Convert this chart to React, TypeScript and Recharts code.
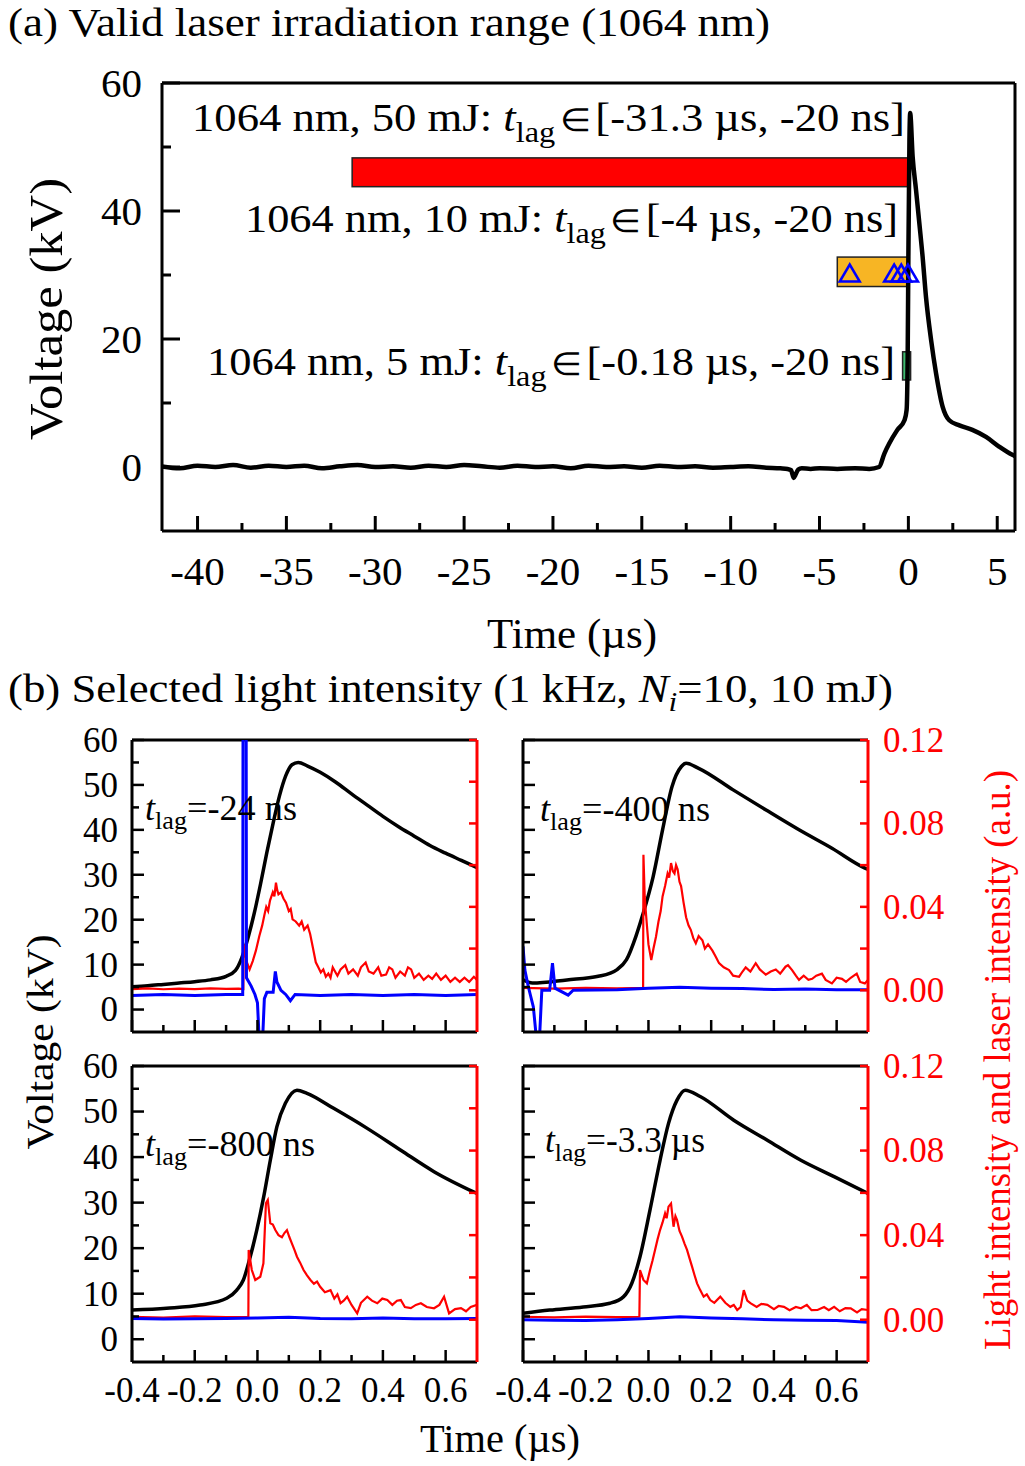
import React from 'react'
import {
  ComposedChart,
  Line,
  XAxis,
  YAxis,
  ReferenceArea,
  ReferenceLine,
  ReferenceDot,
} from 'recharts'

const FONT = '"Liberation Serif", "Times New Roman", serif'
const RED = '#ff0000'
const BLUE = '#0000ff'

// (a) 1064 nm voltage waveform, time in µs, voltage in kV
const aTime = [
  -42, -41, -40, -39, -38, -37, -36, -35, -34, -33, -32, -31, -30, -29, -28, -27, -26, -25,
  -24, -23, -22, -21, -20, -19, -18, -17, -16, -15, -14, -13, -12, -11, -10, -9, -8,
  -7.2, -6.8, -6.6, -6.45, -6.35, -6.2, -6.0, -5.5, -5, -4, -3, -2.2,
  -1.65, -1.35, -1.07, -0.62, -0.22, -0.1, -0.04, 0, 0.06, 0.1,
  0.24, 0.43, 0.62, 0.8, 0.99, 1.28, 1.56, 1.93, 2.3, 2.87, 3.6, 4.37, 5.1, 5.85, 6,
]
const aVolt = [
  0.1, -0.2, 0.2, 0.0, 0.3, -0.1, 0.2, 0.0, 0.2, -0.2, 0.1, 0.3, 0.0, 0.1, -0.1, 0.2, 0.0, 0.3,
  0.1, -0.1, 0.2, 0.0, 0.1, -0.2, 0.2, 0.0, 0.1, -0.1, 0.2, 0.0, 0.1, -0.1, 0.0, 0.1, -0.1,
  -0.2, -0.3, -0.5, -1.7, -1.2, -0.4, -0.2, -0.3, -0.2, -0.3, -0.2, -0.3,
  0.0, 2.1, 3.7, 5.8, 7.3, 8.9, 17.2, 32.9, 51.1, 55.3,
  48.5, 43.3, 38, 32.9, 26.6, 19.8, 14.6, 9.4, 7.3, 6.5, 5.8, 4.7, 3.2, 1.9, 1.7,
]
const aXTicks = [-40, -37.5, -35, -32.5, -30, -27.5, -25, -22.5, -20, -17.5, -15, -12.5, -10, -7.5, -5, -2.5, 0, 2.5, 5]
const aYTicks = [0, 10, 20, 30, 40, 50, 60]

// valid t_lag ranges for 50 / 10 / 5 mJ
const rangeFrom = [-31.3, -4, -0.18]
const rangeTo = [-0.02, -0.02, -0.02]
const rangeLow = [43.8, 28.2, 13.6]
const rangeHigh = [48.3, 32.8, 18]
// delays picked for (b)
const pickedLag = [-3.3, -0.8, -0.4, -0.024]
const pickedVolt = 30.3

// (b) four selected delays
const lagLabels = ['-24 ns', '-400 ns', '-800 ns', '-3.3 µs']

const k24T = [-0.4, -0.35, -0.3, -0.25, -0.2, -0.15, -0.1, -0.07, -0.05, -0.03, -0.01, 0.01, 0.03, 0.05, 0.07, 0.09, 0.11, 0.13, 0.16, 0.2, 0.25, 0.3, 0.35, 0.4, 0.45, 0.5, 0.55, 0.6, 0.65, 0.7]
const k24V = [5.1, 5.3, 5.6, 5.9, 6.2, 6.6, 7.4, 8.7, 11.5, 16, 21.5, 28, 35, 41.5, 47.5, 52, 54.5, 55, 54.2, 52.8, 50.6, 48, 45.5, 43, 40.7, 38.6, 36.5, 34.8, 33.2, 31.6]
const r24T = [
  -0.4, -0.35, -0.3, -0.25, -0.2, -0.15, -0.1, -0.06, -0.045, -0.044,
  -0.035, -0.025, -0.015, -0.005, 0.006, 0.015, 0.022, 0.028, 0.034, 0.04,
  0.049, 0.054, 0.059, 0.063, 0.067, 0.075, 0.083, 0.091, 0.1, 0.106,
  0.112, 0.122, 0.133, 0.141, 0.149, 0.16, 0.168, 0.176, 0.186, 0.194,
  0.202, 0.21, 0.218, 0.226, 0.233,
  0.24, 0.255, 0.265, 0.28, 0.29, 0.305, 0.32, 0.33, 0.345, 0.355,
  0.37, 0.385, 0.395, 0.41, 0.42, 0.43, 0.44, 0.455, 0.47, 0.48,
  0.49, 0.5, 0.515, 0.53, 0.545, 0.557, 0.57, 0.585, 0.6, 0.615,
  0.63, 0.645, 0.66, 0.675, 0.69, 0.7,
]
const r24V = [
  0.0006, 0.0009, 0.0005, 0.0008, 0.0006, 0.0009, 0.0007, 0.0008, 0.0006, 0.022,
  0.014, 0.010, 0.014, 0.019, 0.026, 0.031, 0.036, 0.040, 0.038, 0.043,
  0.047, 0.045, 0.0516, 0.048, 0.046, 0.047, 0.044, 0.042, 0.038, 0.039,
  0.034, 0.033, 0.031, 0.033, 0.029, 0.031, 0.027, 0.021, 0.0134, 0.011,
  0.0085, 0.010, 0.0065, 0.008, 0.006,
  0.011, 0.007, 0.010, 0.012, 0.008, 0.010, 0.007, 0.011, 0.0133, 0.009,
  0.008, 0.011, 0.007, 0.0075, 0.011, 0.010, 0.006, 0.009, 0.007, 0.011,
  0.010, 0.006, 0.008, 0.005, 0.007, 0.0055, 0.008, 0.005, 0.007, 0.004,
  0.006, 0.004, 0.006, 0.004, 0.0065, 0.005,
]
const b24T = [-0.4, -0.3, -0.2, -0.1, -0.047, -0.046, -0.036, -0.035, -0.02, -0.008, 0.0, 0.006, 0.016, 0.022, 0.03, 0.05, 0.057, 0.062, 0.075, 0.09, 0.105, 0.12, 0.2, 0.3, 0.4, 0.5, 0.6, 0.7]
const b24V = [-0.0025, -0.002, -0.0025, -0.002, -0.002, 0.13, 0.13, 0.006, 0.002, -0.002, -0.006, -0.025, -0.025, -0.004, -0.001, -0.001, 0.009, 0.004, 0.0, -0.002, -0.005, -0.002, -0.0025, -0.002, -0.0025, -0.002, -0.0025, -0.002]

const k400T = [-0.4, -0.37, -0.26, -0.16, -0.1, -0.07, -0.04, -0.02, 0.015, 0.045, 0.075, 0.105, 0.12, 0.16, 0.27, 0.375, 0.48, 0.585, 0.69, 0.7]
const k400V = [6.6, 5.9, 6.6, 7.4, 8.9, 11.1, 16.3, 20.7, 29.6, 40, 49.6, 54.1, 54.8, 53.7, 48.9, 44.4, 40, 35.9, 31.5, 31.2]
const r400T = [
  -0.4, -0.3, -0.2, -0.1, -0.05, -0.017, -0.016, -0.012, -0.007, 0.0,
  0.009, 0.016, 0.024, 0.032, 0.039, 0.045, 0.053, 0.061, 0.066, 0.072,
  0.078, 0.083, 0.088, 0.093, 0.099, 0.104, 0.112, 0.12, 0.128, 0.135,
  0.143, 0.151, 0.16, 0.172, 0.18, 0.19,
  0.204, 0.215, 0.225, 0.24, 0.257, 0.27, 0.289, 0.3, 0.31, 0.325,
  0.342, 0.355, 0.374, 0.39, 0.406, 0.42, 0.437, 0.445, 0.458, 0.47,
  0.48, 0.495, 0.51, 0.522, 0.535, 0.553, 0.565, 0.585, 0.6, 0.617,
  0.63, 0.645, 0.664, 0.675, 0.69, 0.7,
]
const r400V = [
  0.0012, 0.0008, 0.0012, 0.0009, 0.0011, 0.0011, 0.065, 0.045, 0.035, 0.022,
  0.0145, 0.02, 0.0257, 0.033, 0.038, 0.045, 0.050, 0.056, 0.054, 0.061,
  0.057, 0.056, 0.060, 0.058, 0.052, 0.050, 0.042, 0.035, 0.031, 0.029,
  0.025, 0.0225, 0.026, 0.024, 0.020, 0.022,
  0.019, 0.016, 0.013, 0.011, 0.0097, 0.007, 0.0065, 0.009, 0.011, 0.009,
  0.013, 0.010, 0.0075, 0.009, 0.010, 0.008, 0.0113, 0.012, 0.0097, 0.007,
  0.005, 0.007, 0.005, 0.0055, 0.007, 0.008, 0.005, 0.0033, 0.006, 0.0055,
  0.004, 0.006, 0.008, 0.004, 0.0033, 0.005,
]
const b400T = [-0.4, -0.394, -0.383, -0.367, -0.356, -0.348, -0.34, -0.315, -0.306, -0.298, -0.256, -0.24, -0.1, 0.0, 0.1, 0.2, 0.3, 0.4, 0.5, 0.6, 0.7]
const b400V = [0.021, 0.0097, 0.0017, -0.008, -0.025, -0.025, 0.0, 0.0, 0.013, 0.001, -0.0023, 0.0, 0.0002, 0.001, 0.0014, 0.001, 0.0008, 0.0004, 0.0006, 0.0002, 0.0002]

const k800T = [-0.4, -0.29, -0.183, -0.098, -0.066, -0.045, -0.023, -0.002, 0.02, 0.041, 0.062, 0.089, 0.126, 0.158, 0.243, 0.35, 0.457, 0.563, 0.7]
const k800V = [6.4, 6.8, 7.5, 9.0, 10.8, 13.0, 18.1, 24.0, 31.3, 39.3, 46.7, 51.8, 54.7, 54, 50.7, 46.3, 41.5, 36.8, 32]
const r800T = [
  -0.4, -0.3, -0.2, -0.1, -0.029, -0.028, -0.018, -0.007, 0.009, 0.019,
  0.027, 0.033, 0.041, 0.049, 0.057, 0.067, 0.078, 0.086, 0.094, 0.102,
  0.11, 0.118, 0.126, 0.136, 0.147, 0.158, 0.169, 0.18, 0.19, 0.2,
  0.215, 0.233, 0.245, 0.255, 0.265, 0.275, 0.286, 0.3, 0.318, 0.33,
  0.35, 0.365, 0.382, 0.398, 0.414, 0.43, 0.445, 0.457, 0.47, 0.489,
  0.505, 0.521, 0.54, 0.563, 0.58, 0.595, 0.611, 0.63, 0.649, 0.665,
  0.68, 0.7,
]
const r800V = [
  0.0014, 0.001, 0.0016, 0.0012, 0.0014, 0.033, 0.0235, 0.0188, 0.0203, 0.0267,
  0.055, 0.0566, 0.0456, 0.045, 0.0424, 0.040, 0.039, 0.041, 0.0424, 0.039,
  0.036, 0.033, 0.0298, 0.027, 0.0235, 0.021, 0.0188, 0.017, 0.018, 0.0156,
  0.013, 0.014, 0.010, 0.012, 0.0078, 0.009, 0.0109, 0.007, 0.003, 0.008,
  0.0109, 0.009, 0.0078, 0.010, 0.0093, 0.007, 0.009, 0.0093, 0.006, 0.0055,
  0.007, 0.0078, 0.006, 0.0054, 0.007, 0.0109, 0.003, 0.005, 0.0055, 0.004,
  0.006, 0.007,
]
const b800T = [-0.4, -0.3, -0.2, -0.1, 0.0, 0.1, 0.2, 0.3, 0.4, 0.5, 0.6, 0.7]
const b800V = [0.0006, 0.0003, 0.0004, 0.0006, 0.0008, 0.0012, 0.0006, 0.0004, 0.0008, 0.0005, 0.0004, 0.0006]

const k3300T = [-0.4, -0.315, -0.208, -0.123, -0.08, -0.053, -0.027, 0.005, 0.037, 0.064, 0.091, 0.117, 0.165, 0.272, 0.379, 0.486, 0.592, 0.7]
const k3300V = [5.7, 6.4, 7.1, 7.9, 9.3, 12.3, 18.1, 28.4, 39.3, 47.4, 52.5, 54.7, 53.3, 48.1, 43.7, 39.3, 35.7, 32]
const r3300T = [
  -0.4, -0.3, -0.2, -0.1, -0.029, -0.027, -0.016, -0.005, 0.005, 0.013,
  0.021, 0.029, 0.037, 0.045, 0.053, 0.058, 0.064, 0.072, 0.08, 0.086,
  0.091, 0.099, 0.107, 0.115, 0.123, 0.131, 0.139, 0.147, 0.155, 0.165,
  0.176, 0.186, 0.197, 0.21, 0.229, 0.245, 0.261, 0.272, 0.283, 0.294,
  0.304, 0.315, 0.325, 0.345, 0.36, 0.379, 0.4, 0.415, 0.432, 0.45,
  0.47, 0.486, 0.505, 0.52, 0.539, 0.56, 0.575, 0.592, 0.61, 0.628,
  0.645, 0.665, 0.68, 0.7,
]
const r3300V = [
  0.0014, 0.0011, 0.0015, 0.0012, 0.0014, 0.0235, 0.0188, 0.0172, 0.0235, 0.028,
  0.033, 0.038, 0.0424, 0.046, 0.0503, 0.048, 0.0535, 0.055, 0.044, 0.049,
  0.0472, 0.042, 0.0393, 0.036, 0.033, 0.029, 0.0251, 0.021, 0.0172, 0.014,
  0.0109, 0.012, 0.0093, 0.008, 0.0109, 0.008, 0.0061, 0.007, 0.0046, 0.006,
  0.014, 0.009, 0.0078, 0.006, 0.0075, 0.007, 0.005, 0.0065, 0.0061, 0.0045,
  0.006, 0.0054, 0.007, 0.0045, 0.0046, 0.006, 0.0045, 0.0061, 0.004, 0.0055,
  0.0054, 0.0035, 0.005, 0.0046,
]
const b3300T = [-0.4, -0.3, -0.2, -0.1, 0.0, 0.1, 0.2, 0.3, 0.4, 0.5, 0.6, 0.7]
const b3300V = [0.0, -0.0002, -0.0004, 0.0, 0.0006, 0.0014, 0.0008, 0.0004, 0.0, -0.0002, -0.0004, -0.0012]

const bXTicks = [-0.4, -0.3, -0.2, -0.1, 0, 0.1, 0.2, 0.3, 0.4, 0.5, 0.6]
const bVTicks = [0, 5, 10, 15, 20, 25, 30, 35, 40, 45, 50, 55, 60]
const bITicks = [0, 0.02, 0.04, 0.06, 0.08, 0.1, 0.12]

const zip = (t: number[], v: number[]) => t.map((x, i) => ({ t: x, v: v[i] }))
const onStep = (v: number, step: number) => Math.abs(v / step - Math.round(v / step)) < 1e-6

type TickCfg = {
  side: 'bottom' | 'left' | 'right'
  step: number // spacing of the long ticks
  major: number
  minor: number
  label: ((v: number) => string) | null
  gap: number
  size: number
  color: string
  width: number
}

// ticks point into the plot, labels sit outside
const tickOf = (c: TickCfg) => (p: any) => {
  const { x, y, payload } = p
  const v = payload.value as number
  const major = onStep(v, c.step)
  const len = major ? c.major : c.minor
  const txt = c.label && major ? c.label(v) : null
  if (c.side === 'bottom') {
    return (
      <g>
        <line x1={x} x2={x} y1={y} y2={y - len} stroke={c.color} strokeWidth={c.width} />
        {txt != null && (
          <text x={x} y={y + c.gap} textAnchor="middle" fontSize={c.size} fontFamily={FONT} fill={c.color}>
            {txt}
          </text>
        )}
      </g>
    )
  }
  const dir = c.side === 'left' ? 1 : -1
  return (
    <g>
      <line x1={x} x2={x + dir * len} y1={y} y2={y} stroke={c.color} strokeWidth={c.width} />
      {txt != null && (
        <text
          x={x - dir * c.gap}
          y={y + c.size * 0.34}
          textAnchor={c.side === 'left' ? 'end' : 'start'}
          fontSize={c.size}
          fontFamily={FONT}
          fill={c.color}
        >
          {txt}
        </text>
      )}
    </g>
  )
}

const Triangle = (p: any) => {
  const { cx, cy } = p
  return (
    <polygon
      points={`${cx - 10},${cy + 8.5} ${cx + 10},${cy + 8.5} ${cx},${cy - 8.5}`}
      fill="none"
      stroke={BLUE}
      strokeWidth={2.5}
    />
  )
}

// range bar; very short ranges get a minimum drawn width so they stay visible
const RangeBar = (p: any) => {
  const w = Math.max(p.width, 8)
  return (
    <rect
      x={p.x + p.width / 2 - w / 2}
      y={p.y}
      width={w}
      height={p.height}
      fill={p.fill}
      stroke="#222"
      strokeWidth={1.5}
    />
  )
}

const rangeFill = [RED, '#f7b524', '#3dba6e']

const PanelA = () => {
  const data = zip(aTime, aVolt)
  return (
    <div style={{ position: 'absolute', left: 0, top: 0 }}>
      <ComposedChart width={1025} height={660} margin={{ top: 83, right: 10, bottom: 99, left: 102 }}>
        <XAxis
          type="number"
          dataKey="t"
          domain={[-42, 6]}
          allowDataOverflow
          ticks={aXTicks}
          interval={0}
          height={30}
          tickLine={false}
          tickSize={0}
          tickMargin={0}
          axisLine={{ stroke: '#000', strokeWidth: 3 }}
          tick={tickOf({ side: 'bottom', step: 5, major: 15, minor: 8, label: (v) => String(v), gap: 54, size: 41, color: '#000', width: 3 })}
        />
        <YAxis
          type="number"
          domain={[-10, 60]}
          allowDataOverflow
          ticks={aYTicks}
          interval={0}
          width={60}
          tickLine={false}
          tickSize={0}
          tickMargin={0}
          axisLine={{ stroke: '#000', strokeWidth: 3 }}
          tick={tickOf({ side: 'left', step: 20, major: 18, minor: 9, label: (v) => String(v), gap: 20, size: 41, color: '#000', width: 3 })}
        />
        <ReferenceLine y={60} stroke="#000" strokeWidth={3} />
        <ReferenceLine x={6} stroke="#000" strokeWidth={3} />
        {rangeFrom.map((x1, i) => (
          <ReferenceArea
            key={i}
            x1={x1}
            x2={rangeTo[i]}
            y1={rangeLow[i]}
            y2={rangeHigh[i]}
            fill={rangeFill[i]}
            fillOpacity={1}
            shape={RangeBar}
          />
        ))}
        <Line data={data} dataKey="v" type="monotone" stroke="#000" strokeWidth={4.5} dot={false} isAnimationActive={false} />
        {pickedLag.map((x, i) => (
          <ReferenceDot key={i} x={x} y={pickedVolt} r={9} shape={Triangle} />
        ))}
      </ComposedChart>
    </div>
  )
}

type Pt = { t: number; v: number }
type SubProps = { col: number; row: number; black: Pt[]; red: Pt[]; blue: Pt[] }

const COL_LEFT = [132, 523]
const ROW_TOP = [740, 1066]
const ROW_H = [292, 296]

const Sub = ({ col, row, black, red, blue }: SubProps) => {
  const left = COL_LEFT[col] - 132
  const top = ROW_TOP[row] - 30
  return (
    <div style={{ position: 'absolute', left, top }}>
      <ComposedChart width={607} height={ROW_H[row] + 100} margin={{ top: 30, right: 70, bottom: 40, left: 72 }}>
        <XAxis
          type="number"
          dataKey="t"
          domain={[-0.4, 0.7]}
          allowDataOverflow
          ticks={bXTicks}
          interval={0}
          height={30}
          tickLine={false}
          tickSize={0}
          tickMargin={0}
          axisLine={{ stroke: '#000', strokeWidth: 3 }}
          tick={tickOf({ side: 'bottom', step: 0.2, major: 12, minor: 7, label: row === 1 ? (v) => v.toFixed(1) : null, gap: 40, size: 35, color: '#000', width: 2.5 })}
        />
        <YAxis
          yAxisId="v"
          type="number"
          domain={[-5, 60]}
          allowDataOverflow
          ticks={bVTicks}
          interval={0}
          width={60}
          tickLine={false}
          tickSize={0}
          tickMargin={0}
          axisLine={{ stroke: '#000', strokeWidth: 3 }}
          tick={tickOf({ side: 'left', step: 10, major: 12, minor: 7, label: col === 0 ? (v) => String(v) : null, gap: 14, size: 35, color: '#000', width: 2.5 })}
        />
        <YAxis
          yAxisId="i"
          orientation="right"
          type="number"
          domain={[-0.02, 0.12]}
          allowDataOverflow
          ticks={bITicks}
          interval={0}
          width={60}
          tickLine={false}
          tickSize={0}
          tickMargin={0}
          axisLine={{ stroke: RED, strokeWidth: 3 }}
          tick={tickOf({ side: 'right', step: 0.04, major: 8, minor: 8, label: col === 1 ? (v) => v.toFixed(2) : null, gap: 15, size: 35, color: RED, width: 2.5 })}
        />
        <ReferenceLine yAxisId="v" y={60} stroke="#000" strokeWidth={3} />
        <Line yAxisId="v" data={black} dataKey="v" type="monotone" stroke="#000" strokeWidth={3.5} dot={false} isAnimationActive={false} />
        <Line yAxisId="i" data={red} dataKey="v" type="linear" stroke={RED} strokeWidth={2.2} dot={false} isAnimationActive={false} />
        <Line yAxisId="i" data={blue} dataKey="v" type="linear" stroke={BLUE} strokeWidth={3} dot={false} isAnimationActive={false} />
      </ComposedChart>
    </div>
  )
}

// t_lag with italic t and subscript "lag"
const Lag = ({ x, y, width, rest }: { x: number; y: number; width: number; rest: string }) => (
  <text x={x} y={y} fontSize={36} fontFamily={FONT} textLength={width} lengthAdjust="spacingAndGlyphs">
    <tspan fontStyle="italic">t</tspan>
    <tspan fontSize={26} dy={9}>lag</tspan>
    <tspan dy={-9}>{rest}</tspan>
  </text>
)

// annotation line in (a): "1064 nm, .. mJ: t_lag ∈ [...]"
const RangeNote = ({ x, y, width, head, tail }: { x: number; y: number; width: number; head: string; tail: string }) => (
  <text x={x} y={y} fontSize={40} fontFamily={FONT} textLength={width} lengthAdjust="spacingAndGlyphs">
    {head} <tspan fontStyle="italic">t</tspan>
    <tspan fontSize={29} dy={11}>lag</tspan>
    <tspan dy={-11} dx={4} fontSize={32}>∈</tspan>
    <tspan dx={4}>{tail}</tspan>
  </text>
)

const Texts = () => (
  <svg width={1025} height={1466} style={{ position: 'absolute', left: 0, top: 0, pointerEvents: 'none' }}>
    <g fontFamily={FONT} fill="#000">
      <text x={8} y={36} fontSize={40} textLength={762} lengthAdjust="spacingAndGlyphs">
        (a) Valid laser irradiation range (1064 nm)
      </text>
      <RangeNote x={192} y={131} width={713} head="1064 nm, 50 mJ:" tail="[-31.3 µs, -20 ns]" />
      <RangeNote x={245} y={232} width={653} head="1064 nm, 10 mJ:" tail="[-4 µs, -20 ns]" />
      <RangeNote x={207} y={375} width={688} head="1064 nm, 5 mJ:" tail="[-0.18 µs, -20 ns]" />
      <text transform="translate(62,309) rotate(-90)" textAnchor="middle" fontSize={46} textLength={262} lengthAdjust="spacingAndGlyphs">
        Voltage (kV)
      </text>
      <text x={572} y={648} textAnchor="middle" fontSize={42} textLength={170} lengthAdjust="spacingAndGlyphs">
        Time (µs)
      </text>

      <text x={8} y={702} fontSize={40} textLength={885} lengthAdjust="spacingAndGlyphs">
        (b) Selected light intensity (1 kHz, <tspan fontStyle="italic">N</tspan>
        <tspan fontSize={28} dy={9} fontStyle="italic">i</tspan>
        <tspan dy={-9}>=10, 10 mJ)</tspan>
      </text>
      <Lag x={145} y={820} width={152} rest={`=${lagLabels[0]}`} />
      <Lag x={540} y={821} width={170} rest={`=${lagLabels[1]}`} />
      <Lag x={145} y={1156} width={170} rest={`=${lagLabels[2]}`} />
      <Lag x={545} y={1152} width={160} rest={`=${lagLabels[3]}`} />
      <text transform="translate(53,1042) rotate(-90)" textAnchor="middle" fontSize={38} textLength={215} lengthAdjust="spacingAndGlyphs">
        Voltage (kV)
      </text>
      <text transform="translate(1010,1060) rotate(-90)" textAnchor="middle" fontSize={38} fill={RED} textLength={580} lengthAdjust="spacingAndGlyphs">
        Light intensity and laser intensity (a.u.)
      </text>
      <text x={500} y={1452} textAnchor="middle" fontSize={40} textLength={160} lengthAdjust="spacingAndGlyphs">
        Time (µs)
      </text>
    </g>
  </svg>
)

export default function App() {
  return (
    <div style={{ position: 'absolute', left: 0, top: 0, width: 1025, height: 1466, background: '#fff', fontFamily: FONT }}>
      <PanelA />
      <Sub col={0} row={0} black={zip(k24T, k24V)} red={zip(r24T, r24V)} blue={zip(b24T, b24V)} />
      <Sub col={1} row={0} black={zip(k400T, k400V)} red={zip(r400T, r400V)} blue={zip(b400T, b400V)} />
      <Sub col={0} row={1} black={zip(k800T, k800V)} red={zip(r800T, r800V)} blue={zip(b800T, b800V)} />
      <Sub col={1} row={1} black={zip(k3300T, k3300V)} red={zip(r3300T, r3300V)} blue={zip(b3300T, b3300V)} />
      <Texts />
    </div>
  )
}
